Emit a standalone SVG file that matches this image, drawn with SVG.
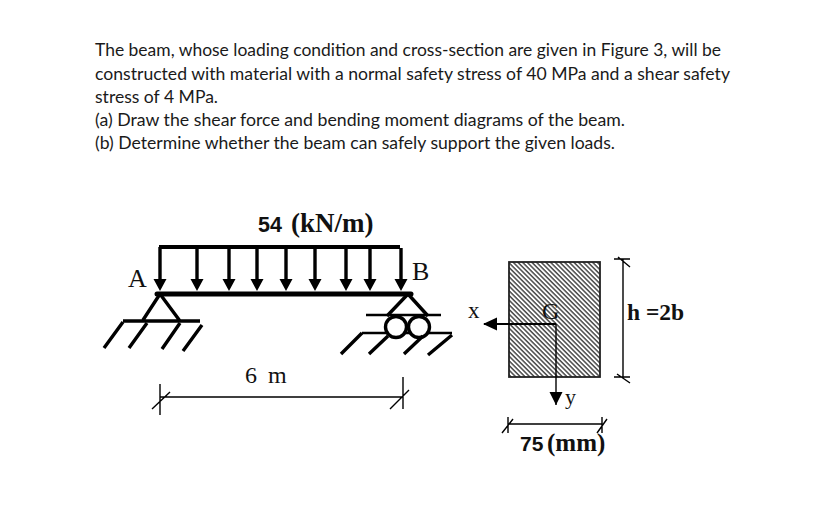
<svg xmlns="http://www.w3.org/2000/svg" width="832" height="519" viewBox="0 0 832 519">
<style>
.body{font-family:"Lato","Open Sans",sans-serif;font-size:17.4px;fill:#1a1a1a}
.s{font-family:"Liberation Serif",serif;fill:#111}
.b{font-weight:bold}
.n{font-family:"Liberation Sans",sans-serif;font-weight:bold;fill:#111}
.l{stroke:#000;fill:none}
.w3{stroke-width:3.4}
.w2{stroke-width:2.4}
.w1{stroke-width:1.4}
</style>
<defs>
<pattern id="hatch" width="3.3" height="3.3" patternUnits="userSpaceOnUse" patternTransform="rotate(45)">
<rect width="3.3" height="3.3" fill="#fff"/>
<rect width="3.3" height="1.5" fill="#4a4a4a"/>
</pattern>
</defs>
<rect width="832" height="519" fill="#fff"/>
<g id="problem-text" class="body">
<text x="95" y="56" textLength="626" lengthAdjust="spacingAndGlyphs">The beam, whose loading condition and cross-section are given in Figure 3, will be</text>
<text x="95" y="80" textLength="635" lengthAdjust="spacingAndGlyphs">constructed with material with a normal safety stress of 40 MPa and a shear safety</text>
<text x="95" y="103" textLength="123" lengthAdjust="spacingAndGlyphs">stress of 4 MPa.</text>
<text x="95" y="126" textLength="530" lengthAdjust="spacingAndGlyphs">(a) Draw the shear force and bending moment diagrams of the beam.</text>
<text x="95" y="149" textLength="520" lengthAdjust="spacingAndGlyphs">(b) Determine whether the beam can safely support the given loads.</text>
</g>
<g id="connectors">
<path class="l" stroke-width="4" d="M159 247H400"/>
<path class="l w3" d="M160 247V281M197 248V281M229 248V281M257 248V281M286 249V281M315 248V281M346 249V281M370 248V281M401 248V281"/>
<path d="M153.500 279H166.500L160 291ZM190.500 279H203.500L197 291ZM222.500 279H235.500L229 291ZM250.500 279H263.500L257 291ZM279.500 279H292.500L286 291ZM308.500 279H321.500L315 291ZM339.500 279H352.500L346 291ZM363.500 279H376.500L370 291ZM394.500 279H407.500L401 291Z" fill="#000"/>
<g id="dim-span"><path class="l w1" d="M160 397H403M160 384V415M403 377V409M152 409L170 392M390 409L409 390"/></g>
<g id="dim-height"><path class="l w1" d="M623 259V377M614 259H630M614 377H630M618 257L630 267M617 374L630 383"/></g>
<g id="dim-width"><path class="l w1" d="M508 424H602M508 417V433M602 417V433M502 433L513 419M597 433L607 419"/></g>
</g>
<g id="beam"><path class="l" stroke-width="5" stroke-linecap="round" d="M157 294H411"/></g>
<g id="support-a">
<path class="l w3" d="M160 294L143 320M160 294L180 321M123 321H200"/>
<path class="l w3" d="M123 322L104 348M147 323L129 348M180 323L162 349M202 325L183 351"/>
</g>
<g id="support-b">
<path class="l w3" d="M408 294L387 316M408 294L428 316"/>
<path class="l" stroke-width="2.6" d="M366 315H441M362 333H452"/>
<circle class="l" stroke-width="3.4" cx="396" cy="327" r="10.500" style="fill:#fff"/>
<circle class="l" stroke-width="3.4" cx="419" cy="327" r="10.500" style="fill:#fff"/>
<path class="l w3" d="M362 333L341 354M388 336L369 354M423 336L404 354M452 335L428 355"/>
</g>
<g id="section">
<rect x="509" y="262" width="91" height="115" fill="url(#hatch)" stroke="#222" stroke-width="1.8"/>
<path class="l" stroke-width="1.8" d="M556 324H484"/>
<path class="l w1" d="M556 324V405"/>
<path d="M483 324L497 317.500V330.500ZM556 405L549.500 392H562.500Z" fill="#000"/>
<text class="s" x="542" y="319" font-size="24">G</text>
</g>
<g id="labels">
<text x="258" y="232" font-size="21.500" class="n">54</text>
<text x="291" y="232" font-size="27" class="s b">(kN/m)</text>
<text class="s" x="128" y="287" font-size="26">A</text>
<text class="s" x="412" y="280" font-size="26">B</text>
<text class="s" x="245" y="383" font-size="24">6</text>
<text class="s" x="268" y="383" font-size="24">m</text>
<text class="s" x="468" y="318" font-size="23">x</text>
<text class="s" x="565" y="404" font-size="22">y</text>
<text class="s b" x="627" y="320" font-size="23.500">h =2b</text>
<text x="520" y="451" font-size="21" class="n">75</text>
<text x="547" y="451" font-size="25" class="s b">(mm)</text>
</g>
</svg>
